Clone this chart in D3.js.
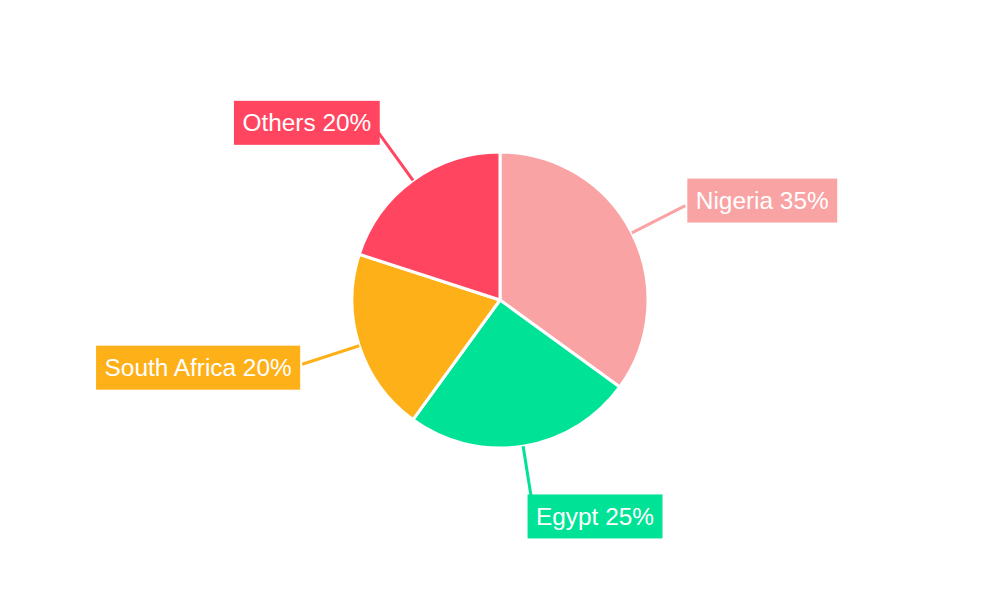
<!DOCTYPE html>
<html><head><meta charset="utf-8">
<script src="https://cdn.jsdelivr.net/npm/d3@7"></script>
<style>body{margin:0;background:#fff}svg{display:block}</style>
</head><body>
<svg id="c" width="1000" height="600"></svg>
<script>
const categories = ["Nigeria", "Egypt", "South Africa", "Others"];
const values = [35, 25, 20, 20];
const colors = ["#F9A3A4", "#00E396", "#FEB019", "#FF4560"];

const svg = d3.select("#c");
const cx = 500, cy = 300, R = 148, Rline = 208;
const g = svg.append("g").attr("transform", `translate(${cx},${cy})`);
const total = d3.sum(values);
const pie = d3.pie().sort(null).value(d => d.v);
const data = pie(categories.map((c, i) => ({ c, v: values[i], col: colors[i] })));
const arc = d3.arc().innerRadius(0).outerRadius(R);

g.selectAll("path.s").data(data).join("path")
  .attr("d", arc).attr("fill", d => d.data.col)
  .attr("stroke", "#fff").attr("stroke-width", 3).attr("stroke-linejoin", "round");

const fontSize = 24.4, padX = 8.5, boxH = 44;
data.forEach(d => {
  const a = (d.startAngle + d.endAngle) / 2;
  const s = Math.sin(a), c = Math.cos(a);
  const x1 = R * s, y1 = -R * c, x2 = Rline * s, y2 = -Rline * c;
  g.append("line").attr("x1", x1).attr("y1", y1).attr("x2", x2).attr("y2", y2)
    .attr("stroke", d.data.col).attr("stroke-width", 3);
  const label = `${d.data.c} ${Math.round(d.data.v / total * 100)}%`;
  const t = g.append("text").text(label)
    .attr("font-family", "'Liberation Sans', Arial, sans-serif")
    .attr("font-size", fontSize).attr("fill", "#fff")
    .attr("text-anchor", "middle").attr("dominant-baseline", "central");
  const w = t.node().getComputedTextLength() + 2 * padX;
  let bx, by;
  if (Math.abs(c) > 0.95) {
    bx = x2 + w / 2 - 5;
    by = c < 0 ? y2 - 11 + boxH / 2 : y2 + 11 - boxH / 2;
  } else {
    const gap = Math.abs(c) > 0.7 ? -2 : 2;
    bx = x2 + Math.sign(s) * (w / 2 + gap);
    by = y2 - c * boxH / 4;
  }
  g.append("rect")
    .attr("x", bx - w / 2).attr("y", by - boxH / 2).attr("width", w).attr("height", boxH)
    .attr("fill", d.data.col);
  t.attr("x", bx).attr("y", by);
  t.raise();
});
</script>
</body></html>
